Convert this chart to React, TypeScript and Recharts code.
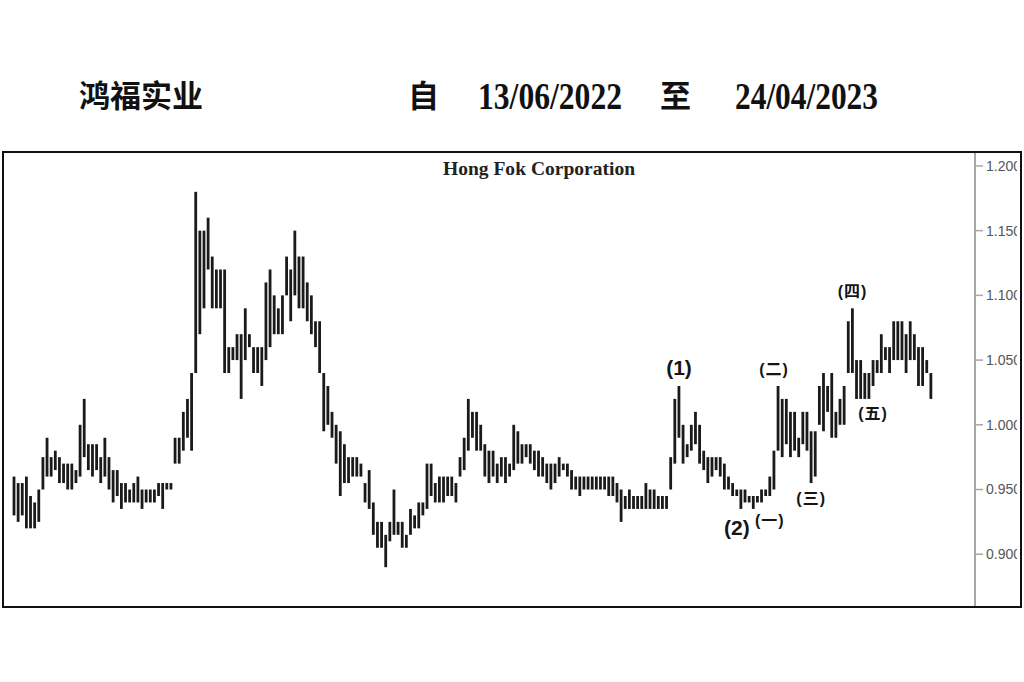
import { BarChart, Bar, XAxis, YAxis, ReferenceDot } from 'recharts';

// daily high / low, 13/06/2022 .. 24/04/2023
const highs = [
  0.96, 0.955, 0.955, 0.96, 0.945, 0.94, 0.95, 0.975, 0.99, 0.975,
  0.98, 0.975, 0.97, 0.97, 0.97, 0.965, 1.0, 1.02, 0.985, 0.985,
  0.985, 0.975, 0.99, 0.975, 0.965, 0.965, 0.955, 0.955, 0.95, 0.955,
  0.96, 0.95, 0.95, 0.95, 0.95, 0.955, 0.955, 0.955, 0.955,
  0.99, 0.99, 1.01, 1.02, 1.04, 1.18, 1.15, 1.15, 1.16, 1.13,
  1.12, 1.12, 1.12, 1.06, 1.06, 1.07, 1.07, 1.09, 1.07, 1.06,
  1.06, 1.06, 1.11, 1.12, 1.1, 1.09, 1.1, 1.13, 1.12, 1.15,
  1.13, 1.13, 1.11, 1.1, 1.08, 1.08, 1.04,
  1.03, 1.01, 1.0, 0.995, 0.985, 0.975, 0.975, 0.975, 0.97, 0.955,
  0.965, 0.94, 0.925, 0.925, 0.915, 0.925, 0.95, 0.925, 0.925, 0.915,
  0.935, 0.93, 0.94, 0.94, 0.97, 0.97, 0.955, 0.96, 0.96, 0.96,
  0.96, 0.955, 0.975, 0.99, 1.02, 1.01, 1.01, 1.0, 0.985, 0.98,
  0.98, 0.97, 0.975, 0.975, 0.97, 1.0, 0.995, 0.985, 0.985, 0.985,
  0.98, 0.98, 0.975, 0.97, 0.97, 0.97, 0.975, 0.97, 0.97, 0.965,
  0.96, 0.96, 0.96, 0.96, 0.96, 0.96, 0.96, 0.96, 0.96, 0.96,
  0.955, 0.95, 0.945, 0.95, 0.945, 0.945, 0.945, 0.955, 0.95, 0.95,
  0.945, 0.945, 0.945, 0.975,
  1.02, 1.03, 1.0, 0.985, 1.0, 1.01, 1.0, 0.98, 0.975, 0.975,
  0.975, 0.975, 0.97, 0.96, 0.955, 0.95, 0.95, 0.95, 0.945, 0.945,
  0.945, 0.95, 0.95, 0.96, 0.98, 1.03, 1.02, 1.02, 1.01, 1.01,
  0.99, 1.01, 1.01, 0.995, 0.995,
  1.03, 1.04, 1.03, 1.04, 1.01, 1.02, 1.03, 1.08, 1.09, 1.05,
  1.05, 1.04, 1.04, 1.05, 1.05, 1.07, 1.06, 1.06, 1.08, 1.08,
  1.08, 1.07, 1.08, 1.07, 1.06, 1.06, 1.05, 1.04,
];

const lows = [
  0.93, 0.925, 0.93, 0.92, 0.92, 0.92, 0.925, 0.95, 0.96, 0.96,
  0.965, 0.955, 0.955, 0.95, 0.95, 0.955, 0.96, 0.975, 0.965, 0.96,
  0.965, 0.955, 0.96, 0.95, 0.94, 0.945, 0.935, 0.94, 0.94, 0.94,
  0.94, 0.935, 0.94, 0.94, 0.94, 0.945, 0.935, 0.95, 0.95,
  0.97, 0.97, 0.98, 0.99, 0.98, 1.04, 1.07, 1.09, 1.12, 1.09,
  1.09, 1.09, 1.04, 1.04, 1.05, 1.05, 1.02, 1.05, 1.06, 1.04,
  1.04, 1.03, 1.05, 1.06, 1.07, 1.07, 1.07, 1.1, 1.08, 1.1,
  1.09, 1.09, 1.08, 1.07, 1.06, 1.04, 0.995,
  1.0, 0.99, 0.97, 0.945, 0.955, 0.955, 0.96, 0.96, 0.96, 0.94,
  0.935, 0.915, 0.905, 0.905, 0.89, 0.91, 0.915, 0.915, 0.905, 0.905,
  0.915, 0.92, 0.92, 0.93, 0.935, 0.945, 0.94, 0.94, 0.94, 0.945,
  0.945, 0.94, 0.96, 0.965, 0.98, 0.99, 0.98, 0.98, 0.96, 0.955,
  0.96, 0.955, 0.96, 0.955, 0.96, 0.965, 0.97, 0.97, 0.975, 0.97,
  0.965, 0.96, 0.96, 0.955, 0.95, 0.955, 0.96, 0.965, 0.96, 0.95,
  0.95, 0.945, 0.95, 0.95, 0.95, 0.95, 0.95, 0.95, 0.945, 0.945,
  0.94, 0.925, 0.935, 0.935, 0.935, 0.935, 0.935, 0.935, 0.935, 0.935,
  0.935, 0.935, 0.935, 0.95,
  0.97, 0.99, 0.97, 0.975, 0.98, 0.985, 0.97, 0.965, 0.955, 0.96,
  0.965, 0.96, 0.95, 0.95, 0.945, 0.945, 0.935, 0.94, 0.94, 0.935,
  0.94, 0.94, 0.945, 0.945, 0.95, 0.98, 0.975, 0.985, 0.975, 0.98,
  0.975, 0.985, 0.98, 0.955, 0.96,
  1.0, 0.995, 1.01, 0.99, 0.99, 1.0, 1.0, 1.04, 1.04, 1.02,
  1.02, 1.02, 1.02, 1.03, 1.04, 1.04, 1.05, 1.04, 1.05, 1.05,
  1.05, 1.04, 1.05, 1.05, 1.03, 1.03, 1.04, 1.02,
];

// elliott wave marks: bar index, price level, label
const waveIdx = [161, 175, 183, 184, 193, 203, 208];
const wavePrice = [1.044, 0.921, 0.926, 1.0425, 0.943, 1.103, 1.0085];
const waveText = ['(1)', '(2)', '(一)', '(二)', '(三)', '(四)', '(五)'];

const yTicks = [0.9, 0.95, 1.0, 1.05, 1.1, 1.15, 1.2];

const data = highs.map((h, i) => ({ i, range: [lows[i], h] }));

function HLBar(props: any) {
  const { x, y, width, height } = props;
  const cx = x + width / 2;
  const top = Math.min(y, y + height);
  const bot = Math.max(y, y + height);
  return <line x1={cx} x2={cx} y1={top} y2={bot} stroke="#1a1a1a" strokeWidth={2.8} />;
}

function waveLabel(text: string) {
  const big = /\d/.test(text);
  return {
    content: (p: any) => {
      const vb = p.viewBox || {};
      const x = (vb.x || 0) + (vb.width || 0) / 2;
      const y = (vb.y || 0) + (vb.height || 0) / 2;
      return (
        <text
          x={x}
          y={y}
          textAnchor="middle"
          dominantBaseline="central"
          fontFamily="'Liberation Sans', 'Noto Sans CJK SC', sans-serif"
          fontWeight="bold"
          fontSize={big ? 21 : 16}
          letterSpacing={big ? 0 : 1}
          fill="#151515"
        >
          {text}
        </text>
      );
    },
  };
}

export default function App() {
  return (
    <div style={{ position: 'fixed', left: 0, top: 0, width: 1024, height: 682, background: '#fff' }}>
      {/* chart frame */}
      <div
        style={{
          position: 'absolute',
          left: 2,
          top: 151,
          width: 1020,
          height: 457,
          border: '2px solid #111',
          boxSizing: 'border-box',
        }}
      >
        <div style={{ width: 1013, height: 453, overflow: 'hidden' }}>
          <BarChart
            width={1013}
            height={453}
            data={data}
            margin={{ top: 0, right: 0, bottom: 0, left: 0 }}
            barCategoryGap={0}
          >
            <XAxis dataKey="i" hide padding={{ left: 8, right: 42 }} />
            <YAxis
              orientation="right"
              width={42}
              domain={[0.86, 1.21]}
              ticks={yTicks}
              allowDataOverflow
              tickFormatter={(v: number) => v.toFixed(3)}
              axisLine={{ stroke: '#a8a8a8', strokeWidth: 2 }}
              tickLine={{ stroke: '#a8a8a8', strokeWidth: 1.5 }}
              tickSize={8}
              tickMargin={3}
              tick={{ fill: '#555', fontSize: 14, fontFamily: "'Liberation Sans', Arial, sans-serif" }}
            />
            <Bar dataKey="range" shape={HLBar} isAnimationActive={false} />
            {waveIdx.map((idx, k) => (
              <ReferenceDot
                key={k}
                x={idx}
                y={wavePrice[k]}
                r={0}
                fill="none"
                stroke="none"
                label={waveLabel(waveText[k])}
              />
            ))}
          </BarChart>
        </div>
      </div>

      {/* header and title */}
      <svg
        width={1024}
        height={682}
        style={{ position: 'absolute', left: 0, top: 0, pointerEvents: 'none' }}
      >
        <g fontFamily="'Noto Sans CJK SC', sans-serif" fontWeight={700} fontSize={31} fill="#111">
          <text x={79} y={107}>鸿福实业</text>
          <text x={408} y={107}>自</text>
          <text x={660} y={107}>至</text>
        </g>
        <g fontFamily="'Liberation Serif', serif" fontWeight={700} fontSize={37} fill="#111">
          <text x={478} y={109} textLength={144} lengthAdjust="spacingAndGlyphs">13/06/2022</text>
          <text x={735} y={109} textLength={143} lengthAdjust="spacingAndGlyphs">24/04/2023</text>
        </g>
        <text
          x={443}
          y={175}
          fontFamily="'Liberation Serif', serif"
          fontWeight={700}
          fontSize={18}
          textLength={192}
          lengthAdjust="spacingAndGlyphs"
          fill="#222"
        >
          Hong Fok Corporation
        </text>
      </svg>
    </div>
  );
}
